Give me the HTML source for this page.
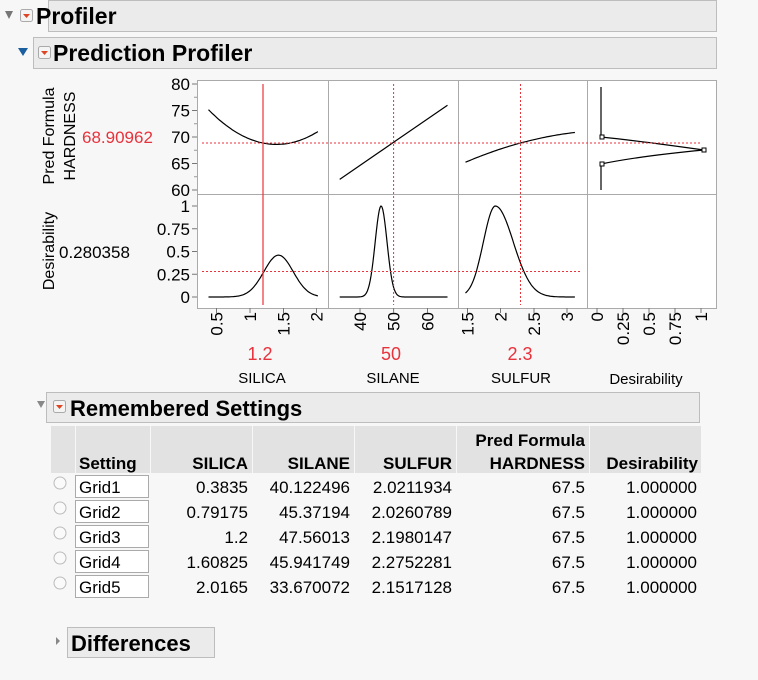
<!DOCTYPE html>
<html><head><meta charset="utf-8"><style>
html,body{margin:0;padding:0;background:#f7f7f7;width:758px;height:680px;overflow:hidden}
svg{display:block}
text{font-family:"Liberation Sans",Arial,sans-serif}
</style></head><body>
<svg id="s" width="758" height="680" xmlns="http://www.w3.org/2000/svg">
<rect x="48.5" y="0.5" width="668" height="31" fill="#ebebeb" stroke="#bdbdbd"/>
<polygon points="5,11 13,11 9,19" fill="#777"/>
<rect x="20.5" y="9.5" width="12" height="12" rx="2" fill="#f4f4f4" stroke="#aaa"/>
<polygon points="23,14 30,14 26.5,18" fill="#d42"/>
<text x="36" y="24" font-size="23" font-weight="bold">Profiler</text>

<rect x="33.5" y="37.5" width="683" height="31" fill="#ebebeb" stroke="#bdbdbd"/>
<polygon points="18,48 28,48 23,56" fill="#1b5fa0"/>
<rect x="38.5" y="46.5" width="12" height="12" rx="2" fill="#f4f4f4" stroke="#aaa"/>
<polygon points="41,51 48,51 44.5,55" fill="#d42"/>
<text x="53" y="61" font-size="23" font-weight="bold">Prediction Profiler</text>

<rect x="197" y="80" width="520" height="228" fill="#fff"/>
<g stroke="#aaa" fill="none">
<rect x="197.5" y="80.5" width="519" height="228"/>
<line x1="197" y1="194.5" x2="717" y2="194.5"/>
<line x1="328.5" y1="80" x2="328.5" y2="308"/>
<line x1="458.5" y1="80" x2="458.5" y2="308"/>
<line x1="587.5" y1="80" x2="587.5" y2="308"/>
</g>
<text transform="translate(54,136) rotate(-90)" font-size="16" text-anchor="middle">Pred Formula</text>
<text transform="translate(75,136) rotate(-90)" font-size="16" text-anchor="middle">HARDNESS</text>
<text x="82" y="143" font-size="17" fill="#e8323c">68.90962</text>
<text transform="translate(54,251) rotate(-90)" font-size="16" text-anchor="middle">Desirability</text>
<text x="59" y="258" font-size="17">0.280358</text>
<g id="ax" font-size="17" text-anchor="end"></g>
<g id="cv"></g>
<g font-size="18" fill="#e8323c" text-anchor="middle">
<text x="260" y="360">1.2</text><text x="391" y="360">50</text><text x="520" y="360">2.3</text>
</g>
<g font-size="15" text-anchor="middle">
<text x="262" y="383">SILICA</text><text x="393" y="383">SILANE</text><text x="521" y="383">SULFUR</text><text x="646" y="384">Desirability</text>
</g>

<polygon points="37,401 45,401 41,408" fill="#888"/>
<rect x="46.5" y="392.5" width="653" height="30" fill="#ebebeb" stroke="#bdbdbd"/>
<rect x="53.5" y="400.5" width="12" height="12" rx="2" fill="#f4f4f4" stroke="#aaa"/>
<polygon points="56,405 63,405 59.5,409" fill="#d42"/>
<text x="70" y="416" font-size="22" font-weight="bold">Remembered Settings</text>
<g fill="#e2e2e2">
<rect x="51" y="426" width="24" height="47"/><rect x="76" y="426" width="74" height="47"/>
<rect x="151" y="426" width="101" height="47"/><rect x="253" y="426" width="101" height="47"/>
<rect x="355" y="426" width="101" height="47"/><rect x="457" y="426" width="132" height="47"/>
<rect x="590" y="426" width="111" height="47"/>
</g>
<g font-size="17" font-weight="bold" text-anchor="end">
<text x="79" y="469" text-anchor="start">Setting</text>
<text x="248" y="469">SILICA</text><text x="350" y="469">SILANE</text><text x="452" y="469">SULFUR</text>
<text x="585" y="446">Pred Formula</text><text x="585" y="469">HARDNESS</text><text x="698" y="469">Desirability</text>
</g>
<g id="tb" font-size="17" text-anchor="end"></g>

<polygon points="56,637 56,645 60,641" fill="#888"/>
<rect x="67.5" y="627.5" width="147" height="30" fill="#ebebeb" stroke="#bdbdbd"/>
<text x="71" y="651" font-size="22" font-weight="bold">Differences</text>
</svg>
<script>
var NS="http://www.w3.org/2000/svg",ax=document.getElementById('ax'),cv=document.getElementById('cv'),tb=document.getElementById('tb');
function el(p,t,a,txt){var e=document.createElementNS(NS,t);for(var k in a)e.setAttribute(k,a[k]);if(txt!==undefined)e.textContent=txt;p.appendChild(e);return e}
[80,75,70,65,60].forEach(function(v){var y=84+(80-v)*5.3;el(ax,'text',{x:190,y:y+6},v);el(ax,'line',{x1:192,x2:197,y1:y,y2:y,stroke:'#777'})});
for(var v=62.5;v<80;v+=5){var y=84+(80-v)*5.3;el(ax,'line',{x1:194,x2:197,y1:y,y2:y,stroke:'#999'})}
[[1,'1'],[.75,'0.75'],[.5,'0.5'],[.25,'0.25'],[0,'0']].forEach(function(a){var y=297-a[0]*91;el(ax,'text',{x:190,y:y+6},a[1]);el(ax,'line',{x1:192,x2:197,y1:y,y2:y,stroke:'#777'})});
function xt(x,l){el(ax,'text',{transform:'translate('+(x+6)+',312) rotate(-90)',x:0,y:0},l);el(ax,'line',{x1:x,x2:x,y1:308,y2:313,stroke:'#777'})}
[[216.5,'0.5'],[250,'1'],[283.5,'1.5'],[316.5,'2'],[360,'40'],[393.6,'50'],[427.5,'60'],[467.5,'1.5'],[500.5,'2'],[534,'2.5'],[567,'3'],[597,'0'],[623,'0.25'],[649,'0.5'],[675,'0.75'],[701,'1']].forEach(function(a){xt(a[0],a[1])});
function yH(v){return 84+(80-v)*5.3}function yD(v){return 297-v*91}
function path(f,x0,x1,n){var d='';for(var i=0;i<=n;i++){var t=x0+(x1-x0)*i/n;var p=f(t);d+=(i?'L':'M')+p[0].toFixed(1)+' '+p[1].toFixed(1)}el(cv,'path',{d:d,fill:'none',stroke:'#000','stroke-width':1.2})}
function sx(v){return 216.5+(v-0.5)*66.7}
path(function(v){return [sx(v),yH(68.6+6.3*(v-1.4)*(v-1.4))]},0.38,2.02,60);
path(function(v){return [sx(v),yD(0.46*Math.exp(-Math.pow((v-1.43)/0.22,2)/2))]},0.38,2.02,80);
function lx(v){return 393.6+(v-50)*3.37}
path(function(v){return [lx(v),yH(62+(v-34)*14/32)]},34,66,2);
path(function(v){return [lx(v),yD(Math.exp(-Math.pow((v-46.3)/1.75,2)/2))]},34,66,120);
function ux(v){return 467.5+(v-1.5)*66.3}
path(function(v){return [ux(v),yH(70.9-3.2*Math.pow((3.15-v)/1.65,2)-2.3*((3.15-v)/1.65))]},1.47,3.12,50);
path(function(v){var s=v<1.92?0.18:0.27;return [ux(v),yD(Math.exp(-Math.pow((v-1.92)/s,2)/2))]},1.47,3.12,100);
el(cv,'path',{d:'M601 87 L601 137 Q640 141 704 150 Q640 156 601 164 L601 190',fill:'none',stroke:'#000','stroke-width':1.2});
[[602,137],[704,150],[602,164]].forEach(function(p){el(cv,'rect',{x:p[0]-2,y:p[1]-2,width:4,height:4,fill:'#fff',stroke:'#000'})});
var R='#e8323c';
el(cv,'line',{x1:263,x2:263,y1:84,y2:305,stroke:R,'stroke-width':1.2});
el(cv,'line',{x1:393.6,x2:393.6,y1:84,y2:305,stroke:R,'stroke-dasharray':'2,2'});
el(cv,'line',{x1:520.5,x2:520.5,y1:84,y2:305,stroke:R,'stroke-dasharray':'2,2'});
el(cv,'line',{x1:202,x2:700,y1:143,y2:143,stroke:R,'stroke-dasharray':'2,2'});
el(cv,'line',{x1:202,x2:580,y1:271.5,y2:271.5,stroke:R,'stroke-dasharray':'2,2'});
var rows=[['Grid1','0.3835','40.122496','2.0211934'],['Grid2','0.79175','45.37194','2.0260789'],['Grid3','1.2','47.56013','2.1980147'],['Grid4','1.60825','45.941749','2.2752281'],['Grid5','2.0165','33.670072','2.1517128']];
rows.forEach(function(r,i){var y=475+i*25;
el(tb,'circle',{cx:60,cy:y+8,r:6,fill:'#fafafa',stroke:'#bbb'});
el(tb,'rect',{x:75.5,y:y+0.5,width:73,height:22,fill:'#fff',stroke:'#aaa'});
el(tb,'text',{x:79,y:y+18,'text-anchor':'start'},r[0]);
el(tb,'text',{x:248,y:y+18},r[1]);el(tb,'text',{x:350,y:y+18},r[2]);el(tb,'text',{x:452,y:y+18},r[3]);
el(tb,'text',{x:585,y:y+18},'67.5');el(tb,'text',{x:697,y:y+18},'1.000000');});
</script>
</body></html>
